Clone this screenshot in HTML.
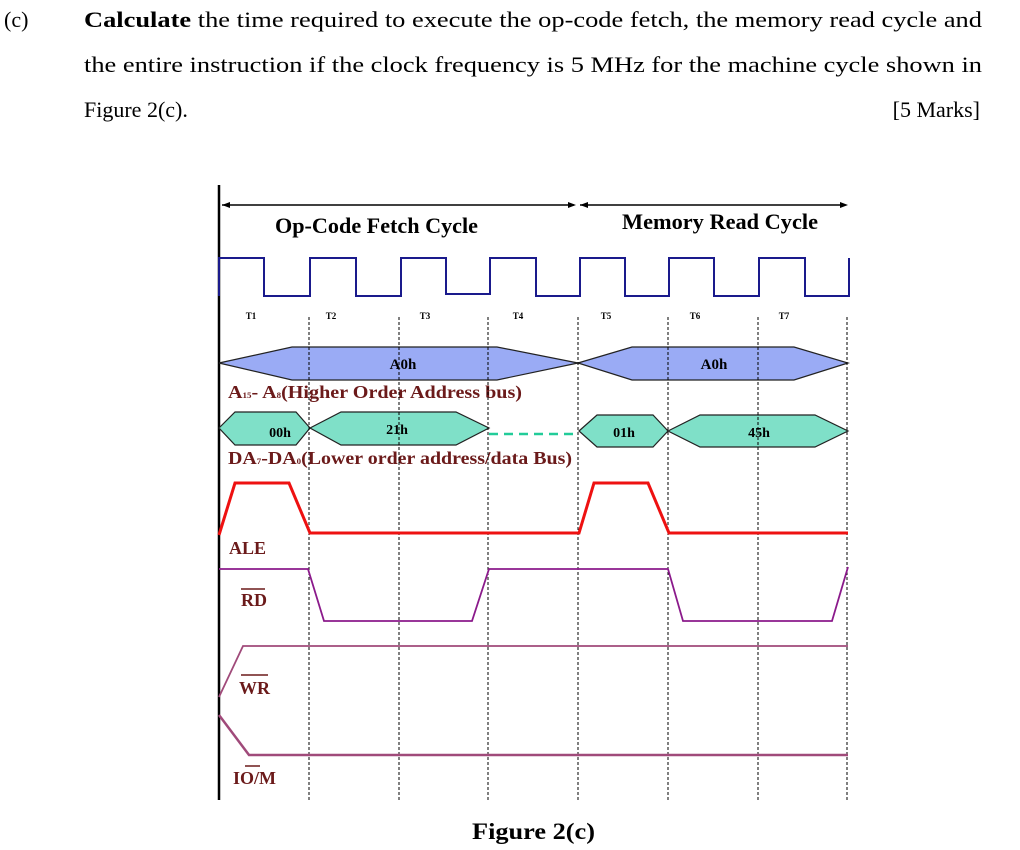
<!DOCTYPE html>
<html><head><meta charset="utf-8"><style>
html,body{margin:0;padding:0;background:#fff;}
svg{display:block;}
.t{font-family:"Liberation Serif",serif;font-size:22px;fill:#000;}
.b{font-family:"Liberation Serif",serif;font-weight:bold;}
.lab{font-family:"Liberation Serif",serif;font-weight:bold;font-size:18px;fill:#6b1a1a;}
</style></head><body>
<svg width="1020" height="850" viewBox="0 0 1020 850" xmlns="http://www.w3.org/2000/svg">
<text class="t" x="4" y="27">(c)</text>
<text class="t" x="84" y="27" textLength="898" lengthAdjust="spacingAndGlyphs"><tspan font-weight="bold">Calculate</tspan> the time required to execute the op-code fetch, the memory read cycle and</text>
<text class="t" x="84" y="72" textLength="898" lengthAdjust="spacingAndGlyphs">the entire instruction if the clock frequency is 5 MHz for the machine cycle shown in</text>
<text class="t" x="84" y="117">Figure 2(c).</text>
<text class="t" x="980" y="117" text-anchor="end">[5 Marks]</text>

<line x1="219" y1="185" x2="219" y2="800" stroke="#000" stroke-width="2.5"/>
<line x1="222" y1="205" x2="574" y2="205" stroke="#000" stroke-width="1.5"/>
<polygon points="222,205 230,202 230,208" fill="#000"/>
<polygon points="576,205 568,202 568,208" fill="#000"/>
<line x1="580" y1="205" x2="845" y2="205" stroke="#000" stroke-width="1.5"/>
<polygon points="580,205 588,202 588,208" fill="#000"/>
<polygon points="848,205 840,202 840,208" fill="#000"/>
<text class="b" x="275" y="233" font-size="22" textLength="203" lengthAdjust="spacingAndGlyphs">Op-Code Fetch Cycle</text>
<text class="b" x="622" y="229" font-size="22" textLength="196" lengthAdjust="spacingAndGlyphs">Memory Read Cycle</text>

<polyline fill="none" stroke="#1a1a8c" stroke-width="2" points="219,296 219,258 264,258 264,296 310,296 310,258 356,258 356,296 401,296 401,258 446,258 446,294 490,294 490,258 536,258 536,296 580,296 580,258 625,258 625,296 669,296 669,258 714,258 714,296 759,296 759,258 805,258 805,296 849,296 849,258"/>
<g class="b" font-size="9" fill="#000">
<text x="251" y="319" text-anchor="middle">T1</text>
<text x="331" y="319" text-anchor="middle">T2</text>
<text x="425" y="319" text-anchor="middle">T3</text>
<text x="518" y="319" text-anchor="middle">T4</text>
<text x="606" y="319" text-anchor="middle">T5</text>
<text x="695" y="319" text-anchor="middle">T6</text>
<text x="784" y="319" text-anchor="middle">T7</text>
</g>

<polygon points="219,363 292,347 497,347 578,363 497,380 292,380" fill="#9aabf5" stroke="#222" stroke-width="1.2"/>
<polygon points="578,363 632,347 794,347 848,363 794,380 632,380" fill="#9aabf5" stroke="#222" stroke-width="1.2"/>
<text class="b" x="403" y="369" font-size="15" text-anchor="middle">A0h</text>
<text class="b" x="714" y="369" font-size="15" text-anchor="middle">A0h</text>
<text class="lab" x="228" y="398" textLength="294" lengthAdjust="spacingAndGlyphs">A<tspan font-size="8">15</tspan>- A<tspan font-size="8">8</tspan>(Higher Order Address bus)</text>

<polygon points="219,428 235,412 296,412 310,428 296,445 235,445" fill="#7fe0c8" stroke="#222" stroke-width="1.2"/>
<polygon points="310,428 341,412 456,412 489,428 456,445 341,445" fill="#7fe0c8" stroke="#222" stroke-width="1.2"/>
<line x1="489" y1="434" x2="578" y2="434" stroke="#22cc99" stroke-width="2.5" stroke-dasharray="9,6"/>
<polygon points="579,431 597,415 653,415 668,431 653,447 597,447" fill="#7fe0c8" stroke="#222" stroke-width="1.2"/>
<polygon points="668,431 700,415 815,415 848,431 815,447 700,447" fill="#7fe0c8" stroke="#222" stroke-width="1.2"/>
<text class="b" x="280" y="437" font-size="14" text-anchor="middle">00h</text>
<text class="b" x="397" y="434" font-size="14" text-anchor="middle">21h</text>
<text class="b" x="624" y="437" font-size="14" text-anchor="middle">01h</text>
<text class="b" x="759" y="437" font-size="14" text-anchor="middle">45h</text>
<text class="lab" x="228" y="464" textLength="344" lengthAdjust="spacingAndGlyphs">DA<tspan font-size="8">7</tspan>-DA<tspan font-size="8">0</tspan>(Lower order address/data Bus)</text>

<g stroke="#000" stroke-width="1" stroke-dasharray="3,2">
<line x1="309" y1="317" x2="309" y2="800"/>
<line x1="399" y1="317" x2="399" y2="800"/>
<line x1="488" y1="317" x2="488" y2="800"/>
<line x1="578" y1="317" x2="578" y2="800"/>
<line x1="668" y1="317" x2="668" y2="800"/>
<line x1="758" y1="317" x2="758" y2="800"/>
<line x1="847" y1="317" x2="847" y2="800"/>
</g>

<polyline fill="none" stroke="#ee1111" stroke-width="3" points="219,535 235,483 289,483 310,533 579,533 594,483 648,483 669,533 848,533"/>
<text class="lab" x="229" y="554">ALE</text>
<polyline fill="none" stroke="#8b1a8b" stroke-width="1.8" points="219,569 308,569 324,621 472,621 489,569 668,569 683,621 832,621 848,567"/>
<text class="lab" x="241" y="606">RD</text>
<line x1="241" y1="589" x2="265" y2="589" stroke="#6b1a1a" stroke-width="1.5"/>
<polyline fill="none" stroke="#a04a7a" stroke-width="1.8" points="219,697 243,646 848,646"/>
<text class="lab" x="239" y="694">WR</text>
<line x1="241" y1="675" x2="268" y2="675" stroke="#6b1a1a" stroke-width="1.5"/>
<polyline fill="none" stroke="#a04a7a" stroke-width="2.5" points="219,715 249,755 848,755"/>
<text class="lab" x="233" y="784">IO/M</text>
<line x1="245" y1="766" x2="260" y2="766" stroke="#6b1a1a" stroke-width="1.5"/>

<text class="b" x="472" y="839" font-size="23" textLength="123" lengthAdjust="spacingAndGlyphs">Figure 2(c)</text>
</svg>
</body></html>
